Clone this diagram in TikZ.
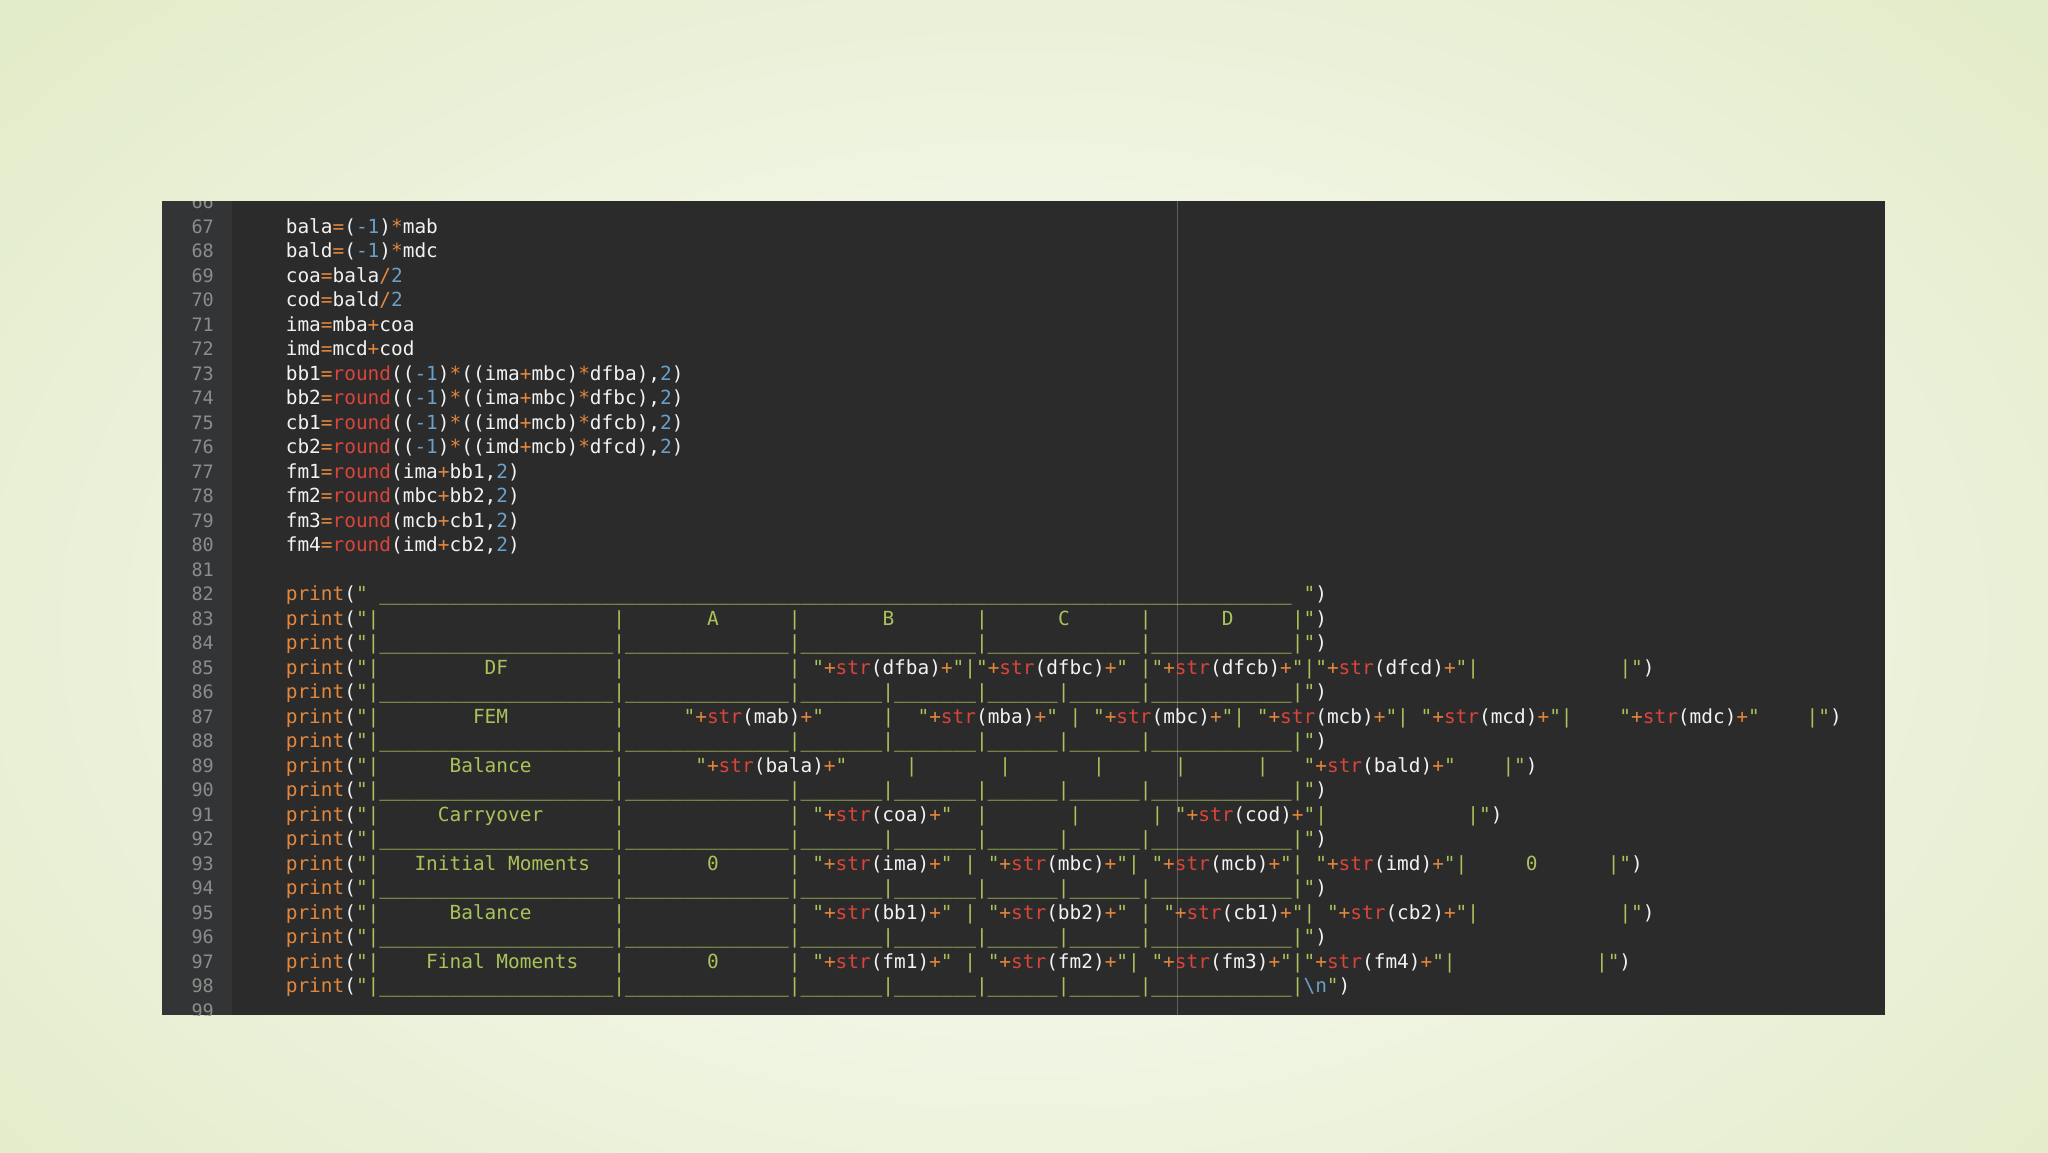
\documentclass[tikz,border=0pt]{standalone}
\usepackage{fontspec}
\newfontfamily\codefont{DejaVu Sans Mono}
\definecolor{edbg}{HTML}{2B2B2B}
\definecolor{gutbg}{HTML}{333435}
\definecolor{lnum}{HTML}{8C8C8C}
\definecolor{cwht}{HTML}{F2F2F2}
\definecolor{corg}{HTML}{E3873D}
\definecolor{cred}{HTML}{D9453A}
\definecolor{cblu}{HTML}{6A9FC7}
\definecolor{cgrn}{HTML}{A9C35A}
\newcommand\kW[1]{\textcolor{cwht}{#1}}
\newcommand\kO[1]{\textcolor{corg}{#1}}
\newcommand\kR[1]{\textcolor{cred}{#1}}
\newcommand\kB[1]{\textcolor{cblu}{#1}}
\newcommand\kG[1]{\textcolor{cgrn}{#1}}
\newlength\chw \setlength\chw{11.7pt}
\newcommand\sk[1]{\hspace*{#1\chw}}
\newcommand\us[1]{\foreach \i in {1,...,#1}{\_}}
\newcommand\Prn{\kO{print}\kW{(}\kG{"}}
\newcommand\Qs[1]{\kG{"}\kO{+}\kR{str}\kW{(#1)}\kO{+}\kG{"}}
\newcommand\En{\kG{"}\kW{)}}
\newcommand\Vb{\kG{|}}
\newcommand\Sep{\Prn\Vb\kG{\us{20}}\Vb\kG{\us{14}}\Vb\kG{\us{7}}\Vb\kG{\us{7}}\Vb\kG{\us{6}}\Vb\kG{\us{6}}\Vb\kG{\us{12}}\Vb}
\tikzset{codeline/.style={anchor=base west,inner sep=0pt,font=\codefont\fontsize{19.43pt}{24pt}\selectfont},
numline/.style={anchor=base east,inner sep=0pt,text=lnum,font=\codefont\fontsize{18.5pt}{24pt}\selectfont}}
\begin{document}
\begin{tikzpicture}[x=1pt,y=1pt]
\useasboundingbox (0,0) rectangle (2048,-1152);
\shade[inner color=white!60!cgrn!8, outer color=cgrn!32!white] (-300,250) rectangle (2348,-1500);
\fill[edbg] (162,-201) rectangle (1885,-1015);
\fill[gutbg] (162,-201) rectangle (232,-1015);
\draw[white!25!edbg,line width=1pt] (1177,-201) -- (1177,-1015);
\begin{scope}
\clip (162,-201) rectangle (1885,-1015);
\foreach \n in {66,...,99}{
  \pgfmathsetmacro\yy{-(226+(\n-67)*24.5+7)}
  \node[numline] (ln\n) at (214,\yy) {\n};
}
\newcommand\CL[2]{\pgfmathsetmacro\yy{-(226+(#1-67)*24.5+7)}\node[codeline] (cl#1) at (285.65,\yy) {#2};}
\CL{67}{\kW{bala}\kO{=}\kW{(}\kB{-1}\kW{)}\kO{*}\kW{mab}}
\CL{68}{\kW{bald}\kO{=}\kW{(}\kB{-1}\kW{)}\kO{*}\kW{mdc}}
\CL{69}{\kW{coa}\kO{=}\kW{bala}\kO{/}\kB{2}}
\CL{70}{\kW{cod}\kO{=}\kW{bald}\kO{/}\kB{2}}
\CL{71}{\kW{ima}\kO{=}\kW{mba}\kO{+}\kW{coa}}
\CL{72}{\kW{imd}\kO{=}\kW{mcd}\kO{+}\kW{cod}}
\CL{73}{\kW{bb1}\kO{=}\kR{round}\kW{((}\kB{-1}\kW{)}\kO{*}\kW{((ima}\kO{+}\kW{mbc)}\kO{*}\kW{dfba),}\kB{2}\kW{)}}
\CL{74}{\kW{bb2}\kO{=}\kR{round}\kW{((}\kB{-1}\kW{)}\kO{*}\kW{((ima}\kO{+}\kW{mbc)}\kO{*}\kW{dfbc),}\kB{2}\kW{)}}
\CL{75}{\kW{cb1}\kO{=}\kR{round}\kW{((}\kB{-1}\kW{)}\kO{*}\kW{((imd}\kO{+}\kW{mcb)}\kO{*}\kW{dfcb),}\kB{2}\kW{)}}
\CL{76}{\kW{cb2}\kO{=}\kR{round}\kW{((}\kB{-1}\kW{)}\kO{*}\kW{((imd}\kO{+}\kW{mcb)}\kO{*}\kW{dfcd),}\kB{2}\kW{)}}
\CL{77}{\kW{fm1}\kO{=}\kR{round}\kW{(ima}\kO{+}\kW{bb1,}\kB{2}\kW{)}}
\CL{78}{\kW{fm2}\kO{=}\kR{round}\kW{(mbc}\kO{+}\kW{bb2,}\kB{2}\kW{)}}
\CL{79}{\kW{fm3}\kO{=}\kR{round}\kW{(mcb}\kO{+}\kW{cb1,}\kB{2}\kW{)}}
\CL{80}{\kW{fm4}\kO{=}\kR{round}\kW{(imd}\kO{+}\kW{cb2,}\kB{2}\kW{)}}
\CL{82}{\Prn\sk{1}\kG{\us{78}}\sk{1}\En}
\CL{83}{\Prn\Vb\sk{20}\Vb\sk{7}\kG{A}\sk{6}\Vb\sk{7}\kG{B}\sk{7}\Vb\sk{6}\kG{C}\sk{6}\Vb\sk{6}\kG{D}\sk{5}\Vb\En}
\CL{84}{\Prn\Vb\kG{\us{20}}\Vb\kG{\us{14}}\Vb\kG{\us{15}}\Vb\kG{\us{13}}\Vb\kG{\us{12}}\Vb\En}
\CL{85}{\Prn\Vb\sk{9}\kG{DF}\sk{9}\Vb\sk{14}\Vb\sk{1}\Qs{dfba}\Vb\Qs{dfbc}\sk{1}\Vb\Qs{dfcb}\Vb\Qs{dfcd}\Vb\sk{12}\Vb\En}
\CL{86}{\Sep\En}
\CL{87}{\Prn\Vb\sk{8}\kG{FEM}\sk{9}\Vb\sk{5}\Qs{mab}\sk{5}\Vb\sk{2}\Qs{mba}\sk{1}\Vb\sk{1}\Qs{mbc}\Vb\sk{1}\Qs{mcb}\Vb\sk{1}\Qs{mcd}\Vb\sk{4}\Qs{mdc}\sk{4}\Vb\En}
\CL{88}{\Sep\En}
\CL{89}{\Prn\Vb\sk{6}\kG{Balance}\sk{7}\Vb\sk{6}\Qs{bala}\sk{5}\Vb\sk{7}\Vb\sk{7}\Vb\sk{6}\Vb\sk{6}\Vb\sk{3}\Qs{bald}\sk{4}\Vb\En}
\CL{90}{\Sep\En}
\CL{91}{\Prn\Vb\sk{5}\kG{Carryover}\sk{6}\Vb\sk{14}\Vb\sk{1}\Qs{coa}\sk{2}\Vb\sk{7}\Vb\sk{6}\Vb\sk{1}\Qs{cod}\Vb\sk{12}\Vb\En}
\CL{92}{\Sep\En}
\CL{93}{\Prn\Vb\sk{3}\kG{Initial}\sk{1}\kG{Moments}\sk{2}\Vb\sk{7}\kG{0}\sk{6}\Vb\sk{1}\Qs{ima}\sk{1}\Vb\sk{1}\Qs{mbc}\Vb\sk{1}\Qs{mcb}\Vb\sk{1}\Qs{imd}\Vb\sk{5}\kG{0}\sk{6}\Vb\En}
\CL{94}{\Sep\En}
\CL{95}{\Prn\Vb\sk{6}\kG{Balance}\sk{7}\Vb\sk{14}\Vb\sk{1}\Qs{bb1}\sk{1}\Vb\sk{1}\Qs{bb2}\sk{1}\Vb\sk{1}\Qs{cb1}\Vb\sk{1}\Qs{cb2}\Vb\sk{12}\Vb\En}
\CL{96}{\Sep\En}
\CL{97}{\Prn\Vb\sk{4}\kG{Final}\sk{1}\kG{Moments}\sk{3}\Vb\sk{7}\kG{0}\sk{6}\Vb\sk{1}\Qs{fm1}\sk{1}\Vb\sk{1}\Qs{fm2}\Vb\sk{1}\Qs{fm3}\Vb\Qs{fm4}\Vb\sk{12}\Vb\En}
\CL{98}{\Sep\kB{\textbackslash n}\En}
\end{scope}
\end{tikzpicture}
\end{document}
